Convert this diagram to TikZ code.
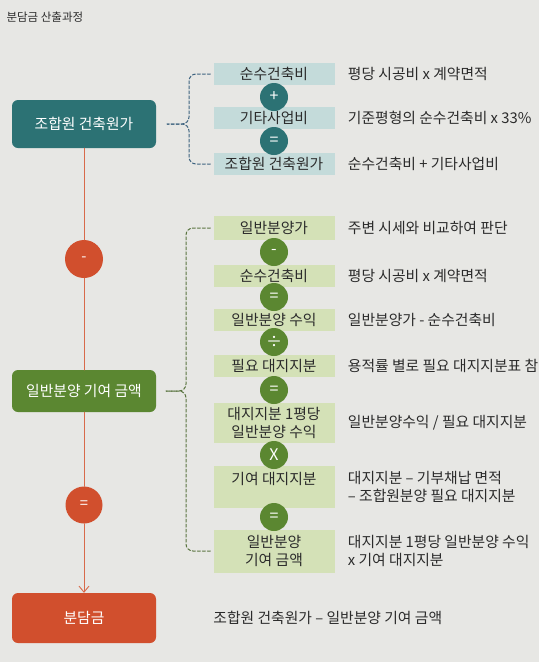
\documentclass[tikz,border=0pt]{standalone}
\usepackage{fontspec}
\setmainfont{Noto Sans CJK KR}
\usetikzlibrary{arrows.meta, calc, positioning}
\usepackage{xcolor}

\definecolor{paper}{HTML}{E7E7E4}
\definecolor{ink}{HTML}{2B2B2B}
\definecolor{tealbox}{HTML}{2C7274}
\definecolor{tealpale}{HTML}{C4DBDA}
\definecolor{tealdash}{HTML}{3E6380}
\definecolor{greenbox}{HTML}{5B8731}
\definecolor{greenpale}{HTML}{D4E1B7}
\definecolor{greendash}{HTML}{5A7540}
\definecolor{redbox}{HTML}{D14F2D}
\definecolor{redwire}{HTML}{D86A4A}

\begin{document}
\begin{tikzpicture}[x=1pt,y=-1pt,line cap=round,line join=round,>={Straight Barb[length=6pt,width=10pt]},
  every node/.style={font=\fontsize{14.8}{18}\selectfont, text=ink},
  mainbox/.style={rounded corners=6pt, minimum width=144pt, inner sep=0pt, text=white},
  stepbox/.style={minimum width=121pt, minimum height=22pt, inner sep=0pt, align=center},
  opcircle/.style={circle, minimum size=28pt, inner sep=0pt, text=white, font=\fontsize{16}{18}\selectfont},
  desc/.style={right=13pt of #1, inner sep=0pt, align=left},
  bracedash/.style={dash pattern=on 3pt off 2pt, line width=1pt, rounded corners=7pt, shorten <=3pt}]

% --- background / page ---
\fill[paper] (0,0) rectangle (539,662);
\useasboundingbox (0,0) rectangle (539,662);

\node[anchor=west, font=\fontsize{11.5}{14}\selectfont] (title) at (3,17) {분담금 산출과정};

% --- left column ---
\node[mainbox, fill=tealbox, minimum height=48pt] (jbox) at (84,124) {조합원 건축원가};
\node[circle, fill=redbox, minimum size=38pt, inner sep=0pt, text=white] (rminus) at (84,259) {-};
\node[mainbox, fill=greenbox, minimum height=42pt] (gbox) at (84,391) {일반분양 기여 금액};
\node[circle, fill=redbox, minimum size=37pt, inner sep=0pt, text=white] (requal) at (84,505) {=};
\node[mainbox, fill=redbox, minimum height=50pt] (bun) at (84,618) {분담금};

\draw[redwire, line width=0.9pt] (jbox) -- (rminus) -- (gbox) -- (requal);
\draw[redwire, line width=0.9pt, ->] (requal) -- (bun);

\node[right=57pt of bun, inner sep=0pt] (bunsum) {조합원 건축원가 – 일반분양 기여 금액};

% --- teal group ---
\node[stepbox, fill=tealpale] (tc1) at (274,74) {순수건축비};
\node[stepbox, fill=tealpale] (tc2) at (274,118) {기타사업비};
\node[stepbox, fill=tealpale] (tc3) at (274,164) {조합원 건축원가};
\node[opcircle, fill=tealbox] (tplus) at (274,97) {+};
\node[opcircle, fill=tealbox] (teq) at (274,141) {=};

\node[desc=tc1] (td1) {평당 시공비 x 계약면적};
\node[desc=tc2] (td2) {기준평형의 순수건축비 x 33\%};
\node[desc=tc3] (td3) {순수건축비 + 기타사업비};

% 중괄호
\coordinate (tbx) at (189,0);
\coordinate (ttip) at ($(jbox.east)+(11,0)$);
\draw[bracedash, tealdash] (tc1.west) -- (tc1.west -| tbx) -- (tbx |- ttip) -- (ttip);
\draw[bracedash, tealdash] (tc3.west) -- (tc3.west -| tbx) -- (tbx |- ttip) -- (ttip);

% --- green group ---
\node[stepbox, fill=greenpale, minimum height=24pt] (gc1) at (274,228) {일반분양가};
\node[stepbox, fill=greenpale] (gc2) at (274,276) {순수건축비};
\node[stepbox, fill=greenpale] (gc3) at (274,320) {일반분양 수익};
\node[stepbox, fill=greenpale] (gc4) at (274,366) {필요 대지지분};
\node[stepbox, fill=greenpale, minimum height=40pt] (gc5) at (274,423) {대지지분 1평당\\일반분양 수익};
\node[stepbox, fill=greenpale, minimum height=42pt] (gc6) at (274,487) {기여 대지지분\\~};
\node[stepbox, fill=greenpale, minimum height=43pt] (gc7) at (274,551) {일반분양\\기여 금액};

\node[opcircle, fill=greenbox] (gminus) at (274,252) {-};
\node[opcircle, fill=greenbox] (geq1) at (274,297) {=};
\node[opcircle, fill=greenbox] (gdiv) at (274,342) {÷};
\node[opcircle, fill=greenbox] (geq2) at (274,390) {=};
\node[opcircle, fill=greenbox] (gtimes) at (274,455) {X};
\node[opcircle, fill=greenbox] (geq3) at (274,517) {=};

\node[desc=gc1] (gd1) {주변 시세와 비교하여 판단};
\node[desc=gc2] (gd2) {평당 시공비 x 계약면적};
\node[desc=gc3] (gd3) {일반분양가 - 순수건축비};
\node[desc=gc4] (gd4) {용적률 별로 필요 대지지분표 참};
\node[desc=gc5] (gd5) {일반분양수익 / 필요 대지지분};
\node[desc=gc6] (gd6) {대지지분 – 기부채납 면적\\– 조합원분양 필요 대지지분};
\node[desc=gc7] (gd7) {대지지분 1평당 일반분양 수익\\x 기여 대지지분};

% 중괄호
\coordinate (gbx) at (186,0);
\coordinate (gtip) at ($(gbox.east)+(10,0)$);
\draw[bracedash, greendash] (gc1.west) -- (gc1.west -| gbx) -- (gbx |- gtip) -- (gtip);
\draw[bracedash, greendash] (gc7.west) -- (gc7.west -| gbx) -- (gbx |- gtip) -- (gtip);

\end{tikzpicture}
\end{document}
